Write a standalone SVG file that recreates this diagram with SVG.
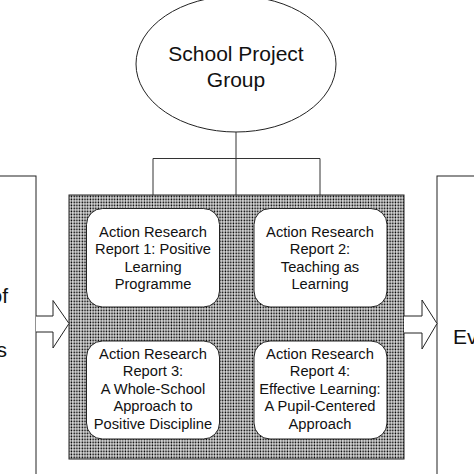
<svg xmlns="http://www.w3.org/2000/svg" width="474" height="474" viewBox="0 0 474 474">
<defs>
<pattern id="dots" x="0" y="0" width="2.7" height="3" patternUnits="userSpaceOnUse">
<rect width="2.7" height="3" fill="#ffffff"/>
<rect x="0.5" y="0.4" width="1.6" height="2.1" fill="#000"/>
</pattern>
</defs>
<style>
.ln{fill:none;stroke:#333;stroke-width:1}
.box{fill:#fff;stroke:#222;stroke-width:1}
.t{font-family:"Liberation Sans",Arial,sans-serif;fill:#111;text-anchor:middle}
.s{font-size:14.7px}
.b{font-size:21px}
</style>
<rect width="474" height="474" fill="#fff"/>
<g id="left-box">
<rect x="-2" y="176" width="38" height="304" class="box"/>
<text class="t b" x="8" y="303" style="text-anchor:end">of</text>
<text class="t b" x="7" y="357" style="text-anchor:end">s</text>
</g>
<g id="right-box">
<rect x="437" y="176" width="40" height="304" class="box"/>
<text class="t b" x="453" y="343.5" style="text-anchor:start">Ev</text>
</g>
<g id="school-project-group">
<ellipse cx="236" cy="64" rx="100" ry="68" class="box"/>
<text class="t b" x="236" y="60.5">School Project</text>
<text class="t b" x="236" y="86.5">Group</text>
</g>
<g id="reports-panel">
<rect x="69" y="195" width="335" height="264" fill="url(#dots)" stroke="#222" stroke-width="1"/>
</g>
<g id="connectors">
<path class="ln" d="M236,132 V195 M153,158.5 H320 M153,158.5 V195 M320,158.5 V195"/>
<path class="box" d="M36,316 H53 V300.5 L69,323.5 L53,348 V332 H36"/>
<path class="box" d="M404,316 H422 V300 L437,323.5 L422,349 V333 H404"/>
</g>
<g id="report1">
<rect x="86.5" y="208.5" width="133" height="98.5" rx="16" class="box"/>
<text class="t s" x="153" y="236.5">Action Research</text>
<text class="t s" x="153" y="254">Report 1: Positive</text>
<text class="t s" x="153" y="271.5">Learning</text>
<text class="t s" x="153" y="289">Programme</text>
</g>
<g id="report2">
<rect x="254" y="208.5" width="133" height="98.5" rx="16" class="box"/>
<text class="t s" x="320" y="236.5">Action Research</text>
<text class="t s" x="320" y="254">Report 2:</text>
<text class="t s" x="320" y="271.5">Teaching as</text>
<text class="t s" x="320" y="289">Learning</text>
</g>
<g id="report3">
<rect x="86.5" y="341" width="133" height="98" rx="16" class="box"/>
<text class="t s" x="153" y="358.5">Action Research</text>
<text class="t s" x="153" y="376">Report 3:</text>
<text class="t s" x="153" y="393.5">A Whole-School</text>
<text class="t s" x="153" y="411">Approach to</text>
<text class="t s" x="153" y="429">Positive Discipline</text>
</g>
<g id="report4">
<rect x="254" y="341" width="133" height="98" rx="16" class="box"/>
<text class="t s" x="320" y="358.5">Action Research</text>
<text class="t s" x="320" y="376">Report 4:</text>
<text class="t s" x="320" y="393.5">Effective Learning:</text>
<text class="t s" x="320" y="411">A Pupil-Centered</text>
<text class="t s" x="320" y="429">Approach</text>
</g>
</svg>
